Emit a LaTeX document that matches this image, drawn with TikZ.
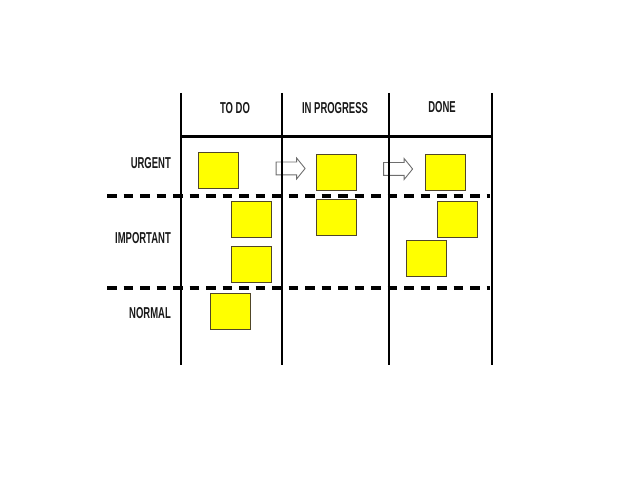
\documentclass[tikz,border=0pt]{standalone}
\usepackage{fontspec}
\usepackage{graphicx}
\setmainfont{Liberation Sans}
\usetikzlibrary{shapes.arrows}

\definecolor{notefill}{RGB}{255,255,0}
\definecolor{noteedge}{RGB}{80,70,40}
\definecolor{arrowedge}{RGB}{110,110,110}
\definecolor{ink}{RGB}{25,25,25}

% narrow bold caption text
\newcommand{\lbl}[1]{\scalebox{0.6}[1]{\bfseries\fontsize{15.8}{16}\selectfont #1}}

\tikzset{
    note/.style={draw=noteedge, line width=1pt, fill=notefill, minimum width=40pt, minimum height=36pt, inner sep=0pt},
    movearrow/.style={single arrow, draw=arrowedge, fill=white, line width=0.9pt, minimum height=29pt, single arrow head extend=4pt, single arrow tip angle=102, inner xsep=0pt, inner ysep=6pt},
    heading/.style={text=ink, inner sep=0pt},
    laneline/.style={line width=3.5pt, dash pattern=on 9.5pt off 7pt}
}

\begin{document}
\begin{tikzpicture}[x=1pt, y=-1pt]
        \useasboundingbox (0,0) rectangle (638,478);

        % Arrows (the column lines run over them)
        \node[movearrow] (a1) at (288,168.5) {};
        \node[movearrow] (a2) at (395.5,169) {};

        % columns
        \foreach \x in {181,282,389,492} {
            \draw[line width=2.5pt] (\x,93) -- (\x,365);
        }
        \draw[line width=3pt] (181,137) -- (492,137);

        % swimlanes
        \draw[laneline] (107,196) -- (490,196);
        \draw[laneline] (107,288) -- (490,288);

        % Headings
        \node[heading] (todo) at (235,108) {\lbl{TO DO}};
        \node[heading] (inprog) at (335,108) {\lbl{IN PROGRESS}};
        \node[heading] (done) at (442,107) {\lbl{DONE}};

        \node[heading, anchor=east] (urgent) at (171,163) {\lbl{URGENT}};
        \node[heading, anchor=east] (important) at (171,238) {\lbl{IMPORTANT}};
        \node[heading, anchor=east] (normal) at (171,313) {\lbl{NORMAL}};

        % Notes
        \node[note] (n1) at (218,171) {};
        \node[note] (n2) at (336,173) {};
        \node[note] (n3) at (445,173) {};
        \node[note] (n4) at (251,220) {};
        \node[note] (n5) at (251,265) {};
        \node[note] (n6) at (336,218) {};
        \node[note] (n7) at (457,220) {};
        \node[note] (n8) at (426,259) {};
        \node[note] (n9) at (230,312) {};
    \end{tikzpicture}
\end{document}
